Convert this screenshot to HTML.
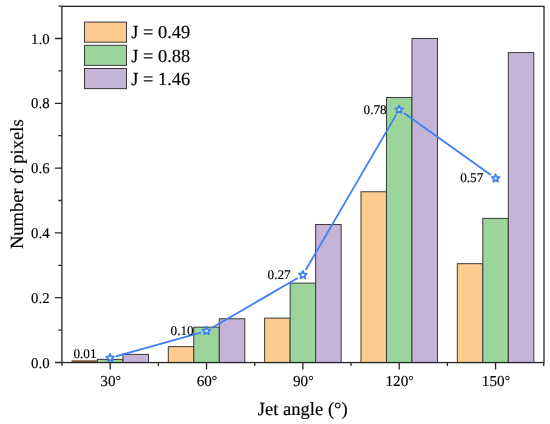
<!DOCTYPE html>
<html><head><meta charset="utf-8"><title>Chart</title>
<style>html,body{margin:0;padding:0;background:#fff;}body{width:550px;height:424px;overflow:hidden;}svg{display:block;}text{stroke:#000;stroke-width:.16px;text-rendering:geometricPrecision;}</style>
</head><body>
<svg width="550" height="424" viewBox="0 0 550 424" font-family="'Liberation Serif', 'Times New Roman', serif" fill="#000">
<rect width="550" height="424" fill="#fff"/>
<rect x="71.55" y="360.3" width="25.9" height="2" fill="#7a5532"/>
<rect x="168.29" y="346.62" width="25.5" height="15.93" fill="#FDCB8F" stroke="#3a3a3a" stroke-width="1"/>
<rect x="264.63" y="318.11" width="25.5" height="44.44" fill="#FDCB8F" stroke="#3a3a3a" stroke-width="1"/>
<rect x="360.97" y="191.75" width="25.5" height="170.80" fill="#FDCB8F" stroke="#3a3a3a" stroke-width="1"/>
<rect x="457.31" y="263.68" width="25.5" height="98.87" fill="#FDCB8F" stroke="#3a3a3a" stroke-width="1"/>
<rect x="97.45" y="359.39" width="25.5" height="3.16" fill="#9BD59B" stroke="#3a3a3a" stroke-width="1"/>
<rect x="193.79" y="327.18" width="25.5" height="35.37" fill="#9BD59B" stroke="#3a3a3a" stroke-width="1"/>
<rect x="290.13" y="283.12" width="25.5" height="79.43" fill="#9BD59B" stroke="#3a3a3a" stroke-width="1"/>
<rect x="386.47" y="97.47" width="25.5" height="265.08" fill="#9BD59B" stroke="#3a3a3a" stroke-width="1"/>
<rect x="482.81" y="218.38" width="25.5" height="144.17" fill="#9BD59B" stroke="#3a3a3a" stroke-width="1"/>
<rect x="122.95" y="354.40" width="25.5" height="8.15" fill="#C5B4D8" stroke="#3a3a3a" stroke-width="1"/>
<rect x="219.29" y="318.76" width="25.5" height="43.79" fill="#C5B4D8" stroke="#3a3a3a" stroke-width="1"/>
<rect x="315.63" y="224.48" width="25.5" height="138.07" fill="#C5B4D8" stroke="#3a3a3a" stroke-width="1"/>
<rect x="411.97" y="38.50" width="25.5" height="324.05" fill="#C5B4D8" stroke="#3a3a3a" stroke-width="1"/>
<rect x="508.31" y="52.59" width="25.5" height="309.96" fill="#C5B4D8" stroke="#3a3a3a" stroke-width="1"/>
<rect x="61.9" y="6.35" width="482.10" height="356.20" fill="none" stroke="#262626" stroke-width="1.3"/>
<path d="M54.9 362.50H61.9 M54.9 297.70H61.9 M54.9 232.90H61.9 M54.9 168.10H61.9 M54.9 103.30H61.9 M54.9 38.50H61.9 M58.4 330.10H61.9 M58.4 265.30H61.9 M58.4 200.50H61.9 M58.4 135.70H61.9 M58.4 70.90H61.9 M58.4 6.10H61.9 M110.20 362.55V369.55 M206.54 362.55V369.55 M302.88 362.55V369.55 M399.22 362.55V369.55 M495.56 362.55V369.55 M62.03 362.55V366.05 M158.37 362.55V366.05 M254.71 362.55V366.05 M351.05 362.55V366.05 M447.39 362.55V366.05 M543.73 362.55V366.05" stroke="#262626" stroke-width="1.3" fill="none"/>
<text x="49.6" y="367.50" font-size="14.8" text-anchor="end">0.0</text>
<text x="49.6" y="302.70" font-size="14.8" text-anchor="end">0.2</text>
<text x="49.6" y="237.90" font-size="14.8" text-anchor="end">0.4</text>
<text x="49.6" y="173.10" font-size="14.8" text-anchor="end">0.6</text>
<text x="49.6" y="108.30" font-size="14.8" text-anchor="end">0.8</text>
<text x="49.6" y="43.50" font-size="14.8" text-anchor="end">1.0</text>
<text x="110.60" y="385.9" font-size="15.2" text-anchor="middle">30<tspan font-size="13.6" dy="-0.9">°</tspan></text>
<text x="206.94" y="385.9" font-size="15.2" text-anchor="middle">60<tspan font-size="13.6" dy="-0.9">°</tspan></text>
<text x="303.28" y="385.9" font-size="15.2" text-anchor="middle">90<tspan font-size="13.6" dy="-0.9">°</tspan></text>
<text x="399.62" y="385.9" font-size="15.2" text-anchor="middle">120<tspan font-size="13.6" dy="-0.9">°</tspan></text>
<text x="495.96" y="385.9" font-size="15.2" text-anchor="middle">150<tspan font-size="13.6" dy="-0.9">°</tspan></text>
<text x="302.7" y="415" font-size="18.6" text-anchor="middle">Jet angle (°)</text>
<text transform="translate(22.8 184.25) rotate(-90)" font-size="18.55" text-anchor="middle">Number of pixels</text>
<rect x="84.5" y="22.10" width="42" height="20.1" fill="#FDCB8F" stroke="#3a3a3a" stroke-width="1"/>
<text x="131.3" y="38.30" font-size="18.4">J = 0.49</text>
<rect x="84.5" y="45.30" width="42" height="20.1" fill="#9BD59B" stroke="#3a3a3a" stroke-width="1"/>
<text x="131.3" y="61.50" font-size="18.4">J = 0.88</text>
<rect x="84.5" y="68.50" width="42" height="20.1" fill="#C5B4D8" stroke="#3a3a3a" stroke-width="1"/>
<text x="131.3" y="84.70" font-size="18.4">J = 1.46</text>
<path d="M115.69 356.44L200.91 332.56 M211.51 328.08L297.79 277.92 M305.72 269.99L396.28 114.61 M403.92 112.97L490.88 175.03" stroke="#3B7FF2" stroke-width="1.75" fill="none"/>
<polygon points="110.10,353.85 111.19,356.50 114.05,356.72 111.86,358.57 112.54,361.36 110.10,359.85 107.66,361.36 108.34,358.57 106.15,356.72 109.01,356.50" fill="#fff" fill-opacity="0.75" stroke="#3B7FF2" stroke-width="1.7" stroke-linejoin="round"/>
<polygon points="206.50,326.85 207.59,329.50 210.45,329.72 208.26,331.57 208.94,334.36 206.50,332.85 204.06,334.36 204.74,331.57 202.55,329.72 205.41,329.50" fill="#fff" fill-opacity="0.75" stroke="#3B7FF2" stroke-width="1.7" stroke-linejoin="round"/>
<polygon points="302.80,270.85 303.89,273.50 306.75,273.72 304.56,275.57 305.24,278.36 302.80,276.85 300.36,278.36 301.04,275.57 298.85,273.72 301.71,273.50" fill="#fff" fill-opacity="0.75" stroke="#3B7FF2" stroke-width="1.7" stroke-linejoin="round"/>
<polygon points="399.20,105.45 400.29,108.10 403.15,108.32 400.96,110.17 401.64,112.96 399.20,111.45 396.76,112.96 397.44,110.17 395.25,108.32 398.11,108.10" fill="#fff" fill-opacity="0.75" stroke="#3B7FF2" stroke-width="1.7" stroke-linejoin="round"/>
<polygon points="495.60,174.25 496.69,176.90 499.55,177.12 497.36,178.97 498.04,181.76 495.60,180.25 493.16,181.76 493.84,178.97 491.65,177.12 494.51,176.90" fill="#fff" fill-opacity="0.75" stroke="#3B7FF2" stroke-width="1.7" stroke-linejoin="round"/>
<text x="96.5" y="358.3" font-size="13.2" text-anchor="end">0.01</text>
<text x="193.7" y="335.40000000000003" font-size="13.2" text-anchor="end">0.10</text>
<text x="290.7" y="279.40000000000003" font-size="13.2" text-anchor="end">0.27</text>
<text x="386.7" y="113.8" font-size="13.2" text-anchor="end">0.78</text>
<text x="483.3" y="182.4" font-size="13.2" text-anchor="end">0.57</text>
</svg>
</body></html>
